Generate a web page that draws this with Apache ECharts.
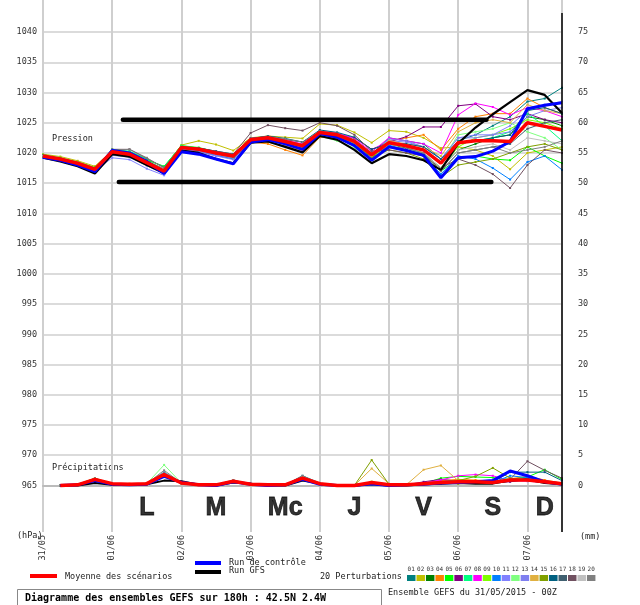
<!DOCTYPE html>
<html><head><meta charset="utf-8">
<script src="https://cdn.jsdelivr.net/npm/echarts@6/dist/echarts.min.js"></script>
<style>html,body{margin:0;padding:0;background:#fff}#c{width:640px;height:605px}</style>
</head><body><div id="c"></div>
<script>
// ---- time axis (hours from 31/05 00Z, 6-hourly) ----
const hours = [0,6,12,18,24,30,36,42,48,54,60,66,72,78,84,90,96,102,108,114,120,126,132,138,144,150,156,162,168,174,180];
const dateLabels = ['31/05','01/06','02/06','03/06','04/06','05/06','06/06','07/06'];
const pressureTicks = [965,970,975,980,985,990,995,1000,1005,1010,1015,1020,1025,1030,1035,1040];
const precipTicks = [0,5,10,15,20,25,30,35,40,45,50,55,60,65,70,75];
const dayLetters = ['L','M','Mc','J','V','S','D'];
const dayLetterHours = [36,60,84,108,132,156,174];
const dayLetterLevel = 961.2;

// ---- pressure (hPa) ----
const meanP = [1019.5,1019.0,1018.3,1017.3,1020.2,1019.8,1018.4,1017.0,1020.9,1020.6,1020.0,1019.5,1022.2,1022.5,1021.9,1021.2,1023.4,1023.0,1021.9,1019.7,1021.7,1021.2,1020.5,1018.3,1021.7,1022.0,1022.0,1021.9,1025.0,1024.4,1023.8];
const controlP = [1019.3,1018.8,1018.0,1016.9,1020.4,1020.0,1018.6,1016.6,1020.2,1019.8,1019.0,1018.2,1021.8,1022.2,1021.5,1020.6,1023.2,1022.6,1021.2,1018.8,1021.0,1020.4,1019.6,1015.9,1019.2,1019.4,1020.3,1021.9,1027.3,1027.9,1028.3];
const gfsP = [1019.2,1018.6,1017.8,1016.6,1019.8,1019.4,1018.0,1016.7,1020.4,1020.0,1019.0,1018.3,1021.7,1021.9,1021.0,1020.1,1022.8,1022.2,1020.5,1018.3,1019.8,1019.5,1018.8,1017.2,1021.6,1024.2,1026.4,1028.4,1030.4,1029.6,1026.6];
const p01 = [1019.6,1019.1,1018.4,1017.4,1020.5,1020.1,1018.6,1017.2,1021.0,1020.7,1020.1,1019.6,1022.3,1022.6,1022.0,1021.3,1023.5,1023.1,1022.0,1019.8,1022.5,1022.0,1021.5,1019.0,1022.0,1023.0,1024.5,1026.0,1028.5,1029.0,1030.8];
const p02 = [1019.8,1019.4,1018.7,1017.8,1020.4,1020.2,1019.0,1017.6,1021.3,1022.0,1021.4,1020.4,1022.5,1022.8,1022.6,1022.4,1024.8,1024.6,1023.4,1021.7,1023.7,1023.5,1022.5,1020.8,1021.0,1020.5,1019.5,1017.3,1020.0,1020.5,1021.0];
const p03 = [1019.4,1018.9,1018.2,1017.2,1020.0,1019.6,1018.2,1016.8,1020.8,1020.4,1019.8,1019.2,1022.0,1022.3,1021.6,1020.8,1023.2,1022.8,1021.6,1019.2,1021.5,1020.8,1020.0,1017.5,1020.5,1021.5,1022.5,1023.0,1026.0,1025.5,1024.5];
const p04 = [1019.5,1019.0,1018.2,1017.0,1020.1,1019.7,1018.5,1017.1,1020.6,1020.2,1019.6,1019.0,1021.8,1021.5,1020.5,1019.6,1022.6,1022.4,1021.2,1019.5,1022.0,1022.5,1023.0,1020.5,1024.0,1026.0,1026.5,1026.5,1029.0,1027.5,1026.5];
const p05 = [1019.6,1019.1,1018.5,1017.6,1020.3,1020.0,1018.8,1017.8,1021.2,1020.9,1020.2,1019.6,1022.1,1022.4,1021.8,1021.0,1023.6,1023.2,1022.2,1020.0,1021.0,1020.5,1019.8,1017.0,1019.0,1019.5,1019.0,1018.8,1021.0,1019.5,1018.3];
const p06 = [1019.3,1018.8,1018.1,1017.1,1020.0,1019.8,1018.4,1017.0,1020.7,1020.5,1019.9,1019.3,1022.2,1022.6,1022.2,1021.8,1023.3,1023.1,1022.5,1020.6,1021.8,1022.7,1024.3,1024.3,1027.8,1028.1,1026.0,1025.5,1026.5,1025.5,1025.0];
const p07 = [1019.7,1019.2,1018.5,1017.5,1020.6,1020.3,1019.0,1017.7,1021.2,1020.8,1020.2,1019.7,1022.0,1022.2,1021.6,1021.0,1023.0,1022.5,1021.5,1019.4,1021.5,1021.0,1020.5,1018.5,1021.5,1022.0,1022.5,1023.5,1026.5,1024.5,1022.0];
const p08 = [1019.5,1019.0,1018.3,1017.3,1020.2,1019.9,1018.6,1017.2,1020.9,1020.6,1020.0,1019.5,1022.4,1022.7,1022.1,1021.5,1023.6,1023.3,1022.4,1020.2,1022.5,1022.0,1021.5,1020.0,1026.3,1028.2,1027.6,1026.3,1027.5,1027.0,1026.0];
const p09 = [1019.6,1019.1,1018.4,1017.5,1020.1,1019.7,1018.2,1016.9,1020.9,1020.5,1019.9,1019.4,1022.1,1022.4,1021.8,1021.1,1023.2,1022.7,1021.6,1019.4,1021.0,1020.5,1019.5,1017.5,1021.0,1022.5,1023.0,1024.0,1025.5,1025.0,1024.0];
const p10 = [1019.3,1018.8,1018.0,1017.0,1020.0,1019.5,1018.0,1016.6,1020.6,1020.3,1019.6,1019.0,1021.8,1022.2,1021.6,1020.9,1023.0,1022.5,1021.4,1018.8,1021.3,1020.5,1019.5,1016.5,1019.5,1019.0,1017.5,1015.6,1018.5,1019.5,1017.2];
const p11 = [1019.2,1018.7,1017.9,1017.0,1019.2,1018.9,1017.4,1016.3,1020.4,1020.1,1019.5,1018.9,1021.6,1022.0,1021.5,1020.9,1023.2,1022.8,1021.8,1019.6,1022.0,1021.8,1021.0,1019.0,1022.5,1023.0,1023.0,1024.5,1027.0,1028.0,1028.5];
const p12 = [1019.5,1019.0,1018.3,1017.4,1020.3,1019.8,1018.6,1017.4,1021.0,1020.7,1020.0,1019.5,1022.0,1022.3,1021.7,1021.0,1022.8,1022.0,1020.8,1019.0,1021.5,1021.0,1020.5,1018.5,1023.0,1023.5,1024.0,1025.0,1023.5,1022.5,1020.5];
const p13 = [1019.4,1018.9,1018.2,1017.3,1019.6,1019.3,1017.9,1016.5,1020.6,1020.3,1019.7,1019.2,1022.3,1022.6,1022.0,1021.4,1023.4,1022.9,1021.9,1019.6,1022.3,1022.0,1021.0,1019.0,1022.5,1022.5,1023.0,1023.5,1026.0,1027.0,1027.5];
const p14 = [1019.5,1019.0,1018.3,1017.0,1020.3,1019.9,1018.6,1017.2,1021.0,1020.7,1020.1,1019.6,1021.8,1021.8,1021.2,1020.4,1022.8,1022.5,1021.5,1019.6,1022.0,1021.5,1021.0,1019.5,1023.5,1025.0,1025.5,1025.0,1028.0,1027.0,1026.5];
const p15 = [1019.4,1018.9,1018.2,1017.2,1020.1,1019.7,1018.3,1016.9,1020.8,1020.5,1019.9,1019.3,1022.1,1022.4,1021.8,1021.0,1023.3,1022.9,1021.7,1019.3,1020.5,1020.0,1019.0,1016.0,1018.0,1018.5,1019.0,1020.0,1021.0,1021.5,1020.5];
const p16 = [1019.5,1019.0,1018.3,1017.3,1020.3,1020.0,1018.7,1017.3,1021.0,1020.8,1020.3,1019.8,1022.4,1022.8,1022.4,1021.8,1023.8,1023.4,1022.6,1020.6,1021.5,1021.5,1021.0,1019.0,1021.5,1022.0,1022.5,1023.0,1027.0,1027.5,1026.5];
const p17 = [1019.4,1018.9,1018.2,1017.2,1020.2,1019.8,1018.4,1017.0,1020.8,1020.5,1019.9,1019.4,1022.2,1022.5,1021.9,1021.2,1023.4,1023.0,1022.0,1019.8,1021.0,1020.5,1019.8,1017.0,1020.0,1020.5,1021.0,1021.5,1024.0,1025.0,1025.5];
const p18 = [1019.6,1019.1,1018.4,1017.4,1020.6,1020.6,1019.1,1017.6,1021.0,1020.8,1020.3,1019.8,1023.3,1024.6,1024.1,1023.7,1025.0,1024.5,1023.0,1020.3,1020.5,1020.0,1019.5,1017.5,1019.0,1018.0,1016.5,1014.2,1018.0,1020.5,1020.0];
const p19 = [1019.5,1019.0,1018.4,1017.4,1020.2,1019.8,1018.5,1017.3,1020.9,1020.6,1020.0,1019.6,1022.2,1022.4,1021.9,1021.3,1023.4,1022.9,1021.8,1019.6,1021.5,1021.0,1020.0,1017.5,1020.5,1021.0,1021.5,1020.5,1022.5,1022.0,1021.5];
const p20 = [1019.4,1018.9,1018.2,1017.3,1020.4,1020.6,1019.2,1017.5,1020.8,1020.5,1019.9,1019.5,1022.3,1022.7,1022.3,1021.8,1023.6,1023.2,1022.1,1020.0,1021.0,1020.8,1020.0,1017.0,1020.0,1020.5,1021.0,1020.0,1020.5,1021.0,1022.0];

// ---- precipitation (mm / 6h) ----
const meanR = [null,0,0.1,1.0,0.3,0.2,0.3,1.8,0.4,0.1,0.1,0.7,0.2,0.1,0.1,1.2,0.3,0,0,0.5,0.1,0.1,0.3,0.5,0.6,0.6,0.5,0.9,0.9,0.6,0.3];
const controlR = [null,0,0.1,0.8,0.2,0.1,0.2,1.5,0.5,0.1,0,0.6,0.2,0,0.1,1.0,0.2,0,0,0.3,0,0.1,0.2,0.4,0.5,0.6,0.8,2.4,1.6,0.6,0.2];
const gfsR = [null,0,0,0.4,0.1,0.1,0.2,0.8,0.7,0.1,0,0.5,0.3,0,0,0.8,0.3,0,0,0.2,0,0,0.2,0.3,0.4,0.3,0.3,0.8,1.0,0.4,0.2];
const r01 = [null,0,0.1,1.1,0.2,0.1,0.3,1.9,0.3,0.1,0,0.8,0.2,0.1,0.1,1.6,0.4,0,0,0.2,0,0.1,0.2,0.3,0.5,0.4,0.6,0.8,1.2,0.5,0.2];
const r02 = [null,0,0.2,1.2,0.3,0.2,0.4,2.0,0.5,0.1,0.1,0.6,0.1,0,0.1,1.3,0.2,0,0,0.6,0.1,0.1,0.2,0.4,0.3,0.4,0.5,0.7,0.8,0.5,0.3];
const r03 = [null,0,0.1,0.9,0.2,0.2,0.2,1.7,0.4,0.1,0.1,0.7,0.2,0.1,0.1,1.1,0.3,0,0,0.4,0.1,0.1,0.3,0.6,0.5,0.5,0.4,0.9,1.0,0.7,0.3];
const r04 = [null,0,0.1,1.0,0.2,0.3,0.3,1.6,0.3,0.1,0,0.6,0.2,0.1,0.1,1.0,0.3,0,0,0.5,0.1,0.2,0.4,0.8,1.0,0.9,0.7,1.1,1.5,0.9,0.4];
const r05 = [null,0,0.1,1.2,0.2,0.2,0.3,2.2,0.4,0.1,0.1,0.8,0.2,0.1,0.1,1.4,0.3,0,0,0.4,0.1,0.1,0.3,1.2,1.5,1.4,1.3,1.0,1.4,2.6,1.0];
const r06 = [null,0,0.1,0.8,0.1,0.2,0.3,1.5,0.4,0.1,0.1,0.6,0.3,0.1,0.1,1.0,0.3,0,0,0.5,0.1,0.1,0.6,1.0,0.7,0.6,0.5,0.6,1.0,0.6,0.4];
const r07 = [null,0,0.1,1.0,0.2,0.2,0.3,2.0,0.4,0.1,0.1,0.7,0.2,0.1,0.1,1.3,0.3,0,0,0.4,0.1,0.1,0.3,0.6,0.8,0.7,0.6,1.0,0.8,0.5,0.3];
const r08 = [null,0,0.1,1.1,0.2,0.2,0.3,1.8,0.4,0.1,0.1,0.7,0.2,0.1,0.1,1.2,0.3,0,0,0.5,0.1,0.1,0.4,0.9,1.6,1.8,1.6,0.8,0.7,0.5,0.2];
const r09 = [null,0,0.1,1.0,0.2,0.2,0.3,1.9,0.4,0.1,0.1,0.7,0.2,0.1,0.1,1.2,0.3,0,0,0.6,0.1,0.1,0.3,0.5,0.6,0.5,0.5,0.9,0.8,0.6,0.3];
const r10 = [null,0,0.1,0.9,0.2,0.2,0.3,1.6,0.4,0.1,0.1,0.7,0.2,0.1,0.1,1.1,0.3,0,0,0.5,0.1,0.1,0.3,0.5,0.5,0.6,0.5,1.6,1.3,0.6,0.3];
const r11 = [null,0,0.1,1.0,0.2,0.2,0.3,2.1,0.4,0.1,0.1,0.8,0.2,0.1,0.1,1.5,0.3,0,0,0.5,0.1,0.1,0.3,0.4,0.6,0.7,0.6,0.9,1.0,0.6,0.3];
const r12 = [null,0,0.1,1.1,0.2,0.2,0.3,3.4,0.4,0.1,0.1,0.8,0.2,0.1,0.1,1.4,0.3,0,0,0.5,0.1,0.1,0.3,0.5,0.6,0.6,0.5,0.9,0.9,0.7,0.3];
const r13 = [null,0,0.1,1.0,0.2,0.2,0.3,2.2,0.4,0.1,0.1,0.7,0.2,0.1,0.1,1.2,0.3,0,0,0.5,0.1,0.1,0.3,0.5,0.6,0.6,0.5,0.8,0.9,0.6,0.3];
const r14 = [null,0,0.1,1.0,0.2,0.2,0.3,1.8,0.4,0.1,0.1,0.7,0.2,0.1,0.1,1.2,0.3,0,0,2.8,0.3,0.1,2.6,3.3,0.8,0.6,0.5,0.8,0.9,0.6,0.3];
const r15 = [null,0,0.1,1.0,0.2,0.2,0.3,1.9,0.4,0.1,0.1,0.7,0.2,0.1,0.1,1.2,0.3,0,0,4.2,0.2,0.1,0.3,0.6,0.8,1.5,2.9,1.2,0.9,0.6,0.3];
const r16 = [null,0,0.1,1.0,0.2,0.2,0.3,1.7,0.4,0.1,0.1,0.7,0.2,0.1,0.1,1.1,0.3,0,0,0.5,0.1,0.1,0.3,0.5,0.6,0.6,0.6,2.2,2.2,2.2,0.8];
const r17 = [null,0,0.1,1.0,0.2,0.2,0.3,1.8,0.4,0.1,0.1,0.6,0.2,0.1,0.1,1.2,0.3,0,0,0.5,0.1,0.1,0.3,0.5,0.6,0.6,0.5,0.9,0.9,0.6,0.3];
const r18 = [null,0,0.1,0.9,0.2,0.2,0.3,2.0,0.4,0.1,0.1,0.7,0.2,0.1,0.1,1.0,0.3,0,0,0.5,0.1,0.1,0.3,0.5,0.6,0.6,0.5,1.0,4.0,2.5,1.2];
const r19 = [null,0,0.1,1.0,0.2,0.2,0.3,1.9,0.4,0.1,0.1,0.7,0.2,0.1,0.1,1.3,0.3,0,0,0.5,0.1,0.1,0.3,0.5,0.6,0.6,0.5,0.9,0.9,0.6,0.3];
const r20 = [null,0,0.1,1.2,0.2,0.2,0.3,2.5,0.4,0.1,0.1,0.9,0.2,0.1,0.1,1.6,0.3,0,0,0.5,0.1,0.1,0.3,0.5,0.6,0.6,0.5,0.9,0.9,0.6,0.3];

const pertNames = ['01','02','03','04','05','06','07','08','09','10','11','12','13','14','15','16','17','18','19','20'];
const pertColors = ['#008080','#c0c000','#008000','#ff8000','#00ff00','#800080','#00ff80','#ff00ff','#80ff00','#0080ff','#8080ff','#80ff80','#7f7ff0','#e0b040','#80a000','#006080','#406070','#705060','#c0c0c0','#808080'];
const pertP = [p01,p02,p03,p04,p05,p06,p07,p08,p09,p10,p11,p12,p13,p14,p15,p16,p17,p18,p19,p20];
const pertR = [r01,r02,r03,r04,r05,r06,r07,r08,r09,r10,r11,r12,r13,r14,r15,r16,r17,r18,r19,r20];

// hand-drawn range annotations (hours, hPa)
const upperBand = [[27.7,1025.5],[153.8,1025.5]];
const lowerBand = [[26.3,1015.2],[155.5,1015.2]];

const MONO = 'DejaVu Sans Mono';
const pts = vals => vals.map((v,i) => [hours[i], v]);

const series = [];
pertP.forEach((vals,k) => series.push({
  type:'line', name:'P'+pertNames[k], data:pts(vals), yAxisIndex:0,
  lineStyle:{width:1,color:pertColors[k]}, itemStyle:{color:pertColors[k]},
  symbol:'rect', symbolSize:2, showSymbol:true, z:2
}));
pertR.forEach((vals,k) => series.push({
  type:'line', name:'R'+pertNames[k], data:pts(vals), yAxisIndex:1,
  lineStyle:{width:1,color:pertColors[k]}, itemStyle:{color:pertColors[k]},
  symbol:'rect', symbolSize:2, showSymbol:true, z:2
}));
[[gfsP,0,'#000000',2.2],[controlP,0,'#0000ff',3],[meanP,0,'#ff0000',3.5],
 [gfsR,1,'#000000',2],[controlR,1,'#0000ff',3],[meanR,1,'#ff0000',3.5]].forEach(([vals,ax,col,w],j) =>
  series.push({type:'line', data:pts(vals), yAxisIndex:ax, symbol:'none',
    lineStyle:{width:w,color:col}, z:3+ (j%3)}));
[upperBand, lowerBand].forEach(b => series.push({type:'line', data:b, yAxisIndex:0, symbol:'none',
  lineStyle:{width:4.5,color:'#000',cap:'round'}, z:7}));
series.push({type:'scatter', yAxisIndex:0, symbolSize:0, z:8,
  data: dayLetters.map((t,i) => ({value:[dayLetterHours[i], dayLetterLevel], name:t})),
  label:{show:true, position:'inside', formatter:p=>p.name, fontFamily:'Liberation Sans',
    fontWeight:900, fontSize:25, color:'#000', textBorderColor:'#000', textBorderWidth:0.8}});

// legend drawing (graphic)
const g = [];
g.push({type:'line', shape:{x1:562,y1:13,x2:562,y2:532}, style:{stroke:'#000',lineWidth:1.5}, z:10});
g.push({type:'line', shape:{x1:30,y1:576,x2:57,y2:576}, style:{stroke:'#ff0000',lineWidth:4}});
g.push({type:'text', x:65, y:577, style:{text:'Moyenne des scénarios', font:'8.5px "'+MONO+'"', fill:'#222', verticalAlign:'middle'}});
g.push({type:'line', shape:{x1:195,y1:563,x2:221,y2:563}, style:{stroke:'#0000ff',lineWidth:4}});
g.push({type:'line', shape:{x1:195,y1:572,x2:221,y2:572}, style:{stroke:'#000000',lineWidth:4}});
g.push({type:'text', x:229, y:563, style:{text:'Run de contrôle', font:'8.5px "'+MONO+'"', fill:'#222', verticalAlign:'middle'}});
g.push({type:'text', x:229, y:571, style:{text:'Run GFS', font:'8.5px "'+MONO+'"', fill:'#222', verticalAlign:'middle'}});
g.push({type:'text', x:320, y:577, style:{text:'20 Perturbations', font:'8.5px "'+MONO+'"', fill:'#222', verticalAlign:'middle'}});
pertColors.forEach((c,k) => {
  const x = 407 + k*9.47;
  g.push({type:'rect', shape:{x:x,y:575,width:8.5,height:6}, style:{fill:c}});
  g.push({type:'text', x:x+4.2, y:569, style:{text:pertNames[k], font:'6px "'+MONO+'"', fill:'#333', align:'center', verticalAlign:'middle'}});
});
g.push({type:'rect', shape:{x:17.5,y:589.5,width:364,height:20}, style:{fill:'#fff',stroke:'#888',lineWidth:1}});
g.push({type:'text', x:25, y:598, style:{text:'Diagramme des ensembles GEFS sur 180h : 42.5N 2.4W', font:'bold 10px "'+MONO+'"', fill:'#000', verticalAlign:'middle'}});
g.push({type:'text', x:388, y:593, style:{text:'Ensemble GEFS du 31/05/2015 - 00Z', font:'8.5px "'+MONO+'"', fill:'#222', verticalAlign:'middle'}});
g.push({type:'text', x:17, y:536, style:{text:'(hPa)', font:'8.5px "'+MONO+'"', fill:'#222', verticalAlign:'middle'}});
g.push({type:'text', x:580, y:537, style:{text:'(mm)', font:'8.5px "'+MONO+'"', fill:'#222', verticalAlign:'middle'}});
g.push({type:'text', x:52, y:139, style:{text:'Pression', font:'8.5px "'+MONO+'"', fill:'#222', verticalAlign:'middle'}});
g.push({type:'text', x:52, y:468, style:{text:'Précipitations', font:'8.5px "'+MONO+'"', fill:'#222', verticalAlign:'middle'}});

const chart = echarts.init(document.getElementById('c'));
chart.setOption({
  animation:false,
  backgroundColor:'#fff',
  grid:{left:43, right:78, top:0, bottom:73},
  xAxis:{type:'value', min:0, max:180, interval:24,
    axisLine:{show:true, lineStyle:{color:'#bbb', width:2}},
    axisTick:{show:false},
    splitLine:{show:true, lineStyle:{color:'#cfcfcf', width:2}},
    axisLabel:{rotate:90, margin:3, fontFamily:MONO, fontSize:8.5, color:'#333',
      formatter:v => (v % 24 === 0 && dateLabels[v/24]) ? dateLabels[v/24] : ''}},
  yAxis:[
    {type:'value', min:957.3, max:1045.3, position:'left',
      axisLine:{show:false}, axisTick:{show:false, customValues:pressureTicks},
      splitLine:{show:true, lineStyle:{color:'#cfcfcf', width:1.5}},
      axisLabel:{customValues:pressureTicks, margin:6, fontFamily:MONO, fontSize:8.5, color:'#333',
        formatter:v => String(v)}},
    {type:'value', min:-7.7, max:80.3, position:'right',
      axisLine:{show:false}, axisTick:{show:false},
      splitLine:{show:false},
      axisLabel:{customValues:precipTicks, margin:16, fontFamily:MONO, fontSize:8.5, color:'#333',
        formatter:v => String(v)}}
  ],
  series: series,
  graphic: g
});
</script></body></html>
